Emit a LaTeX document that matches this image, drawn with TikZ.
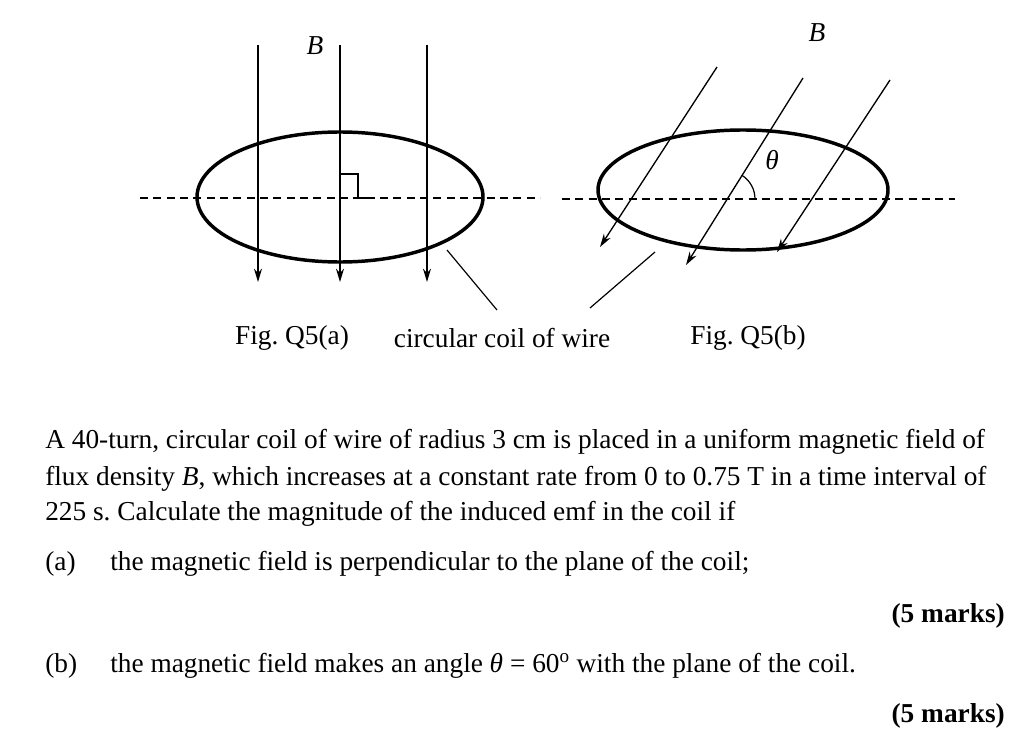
\documentclass[tikz,border=0pt]{standalone}
\usepackage{fontspec}
\setmainfont{Liberation Serif}
\usetikzlibrary{arrows.meta}
\frenchspacing
\begin{document}
\begin{tikzpicture}[x=0.75pt,y=-0.75pt,
  coil/.style={line width=2.6pt},
  field/.style={line width=1pt,-{Stealth[length=10pt,width=6pt]}},
  axis/.style={line width=0.9pt,dash pattern=on 6pt off 4pt},
  txt/.style={font=\fontsize{20.5}{24}\selectfont,inner sep=0pt},
  lbl/.style={font=\fontsize{20.5}{24}\selectfont\itshape,inner sep=0pt}]
\useasboundingbox (0,0) rectangle (1024,731);
% Fig a
\draw[axis] (140,198) -- (540,198);
\draw[coil] (340,197) ellipse [x radius=143, y radius=65];
\foreach \x/\n in {258/a1,340/a2,427/a3}{
  \coordinate (\n s) at (\x,45); \coordinate (\n e) at (\x,282);
  \draw[field] (\n s) -- (\n e);}
\draw[line width=1pt] (340,174) -- (358,174) -- (358,198) -- (370,198);
\node[lbl] (Ba) at (315,46) {B};
% Fig b
\draw[axis] (562,199) -- (955,199);
\draw[coil] (743,190) ellipse [x radius=145, y radius=60];
\foreach \a/\b/\c/\d/\n in {717/67/600/247/b1,803/78/686/265/b2,890/80/777/252/b3}{
  \coordinate (\n s) at (\a,\b); \coordinate (\n e) at (\c,\d);
  \draw[field] (\n s) -- (\n e);}
\draw[line width=0.9pt] (755,199) arc[start angle=0,end angle=-58,radius=28];
\node[lbl] (th) at (772,160) {θ};
\node[lbl] (Bb) at (817,33) {B};
% pointers
\coordinate (p1) at (447,250); \coordinate (p2) at (497,310);
\coordinate (p3) at (655,252); \coordinate (p4) at (590,308);
\draw[line width=0.9pt] (p1) -- (p2);
\draw[line width=0.9pt] (p3) -- (p4);
\node[txt] (fa) at (292,338) {Fig. Q5(a)};
\node[txt] (cc) at (502,338) {circular coil of wire};
\node[txt] (fb) at (748,338) {Fig. Q5(b)};
% text
\node[txt,anchor=west] (l1) at (45,442) {A 40-turn, circular coil of wire of radius 3 cm is placed in a uniform magnetic field of};
\node[txt,anchor=west] (l2) at (45,479) {flux density \textit{B}, which increases at a constant rate from 0 to 0.75 T in a time interval of};
\node[txt,anchor=west] (l3) at (45,514) {225 s. Calculate the magnitude of the induced emf in the coil if};
\node[txt,anchor=west] (qa) at (45,564) {(a)};
\node[txt,anchor=west] (ta) at (110,564) {the magnetic field is perpendicular to the plane of the coil;};
\node[txt,anchor=east,font=\fontsize{20.5}{24}\selectfont\bfseries] (m1) at (1005,616) {(5 marks)};
\node[txt,anchor=west] (qb) at (45,666) {(b)};
\node[txt,anchor=west] (tb) at (110,666) {the magnetic field makes an angle \textit{θ} = 60\textsuperscript{o} with the plane of the coil.};
\node[txt,anchor=east,font=\fontsize{20.5}{24}\selectfont\bfseries] (m2) at (1005,716) {(5 marks)};
\end{tikzpicture}
\end{document}
